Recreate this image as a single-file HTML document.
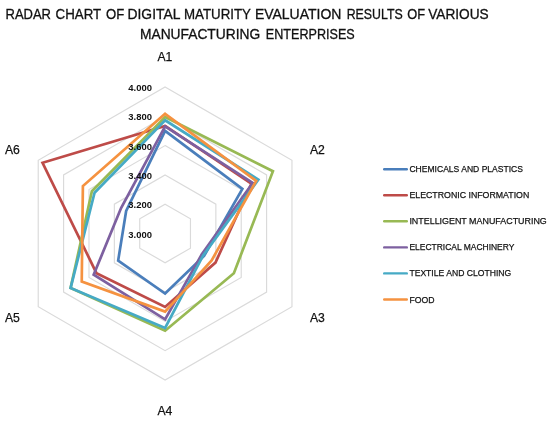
<!DOCTYPE html>
<html lang="en"><head><meta charset="utf-8"><title>Radar chart</title>
<style>html,body{margin:0;padding:0;background:#fff}body{width:550px;height:421px;overflow:hidden}svg{display:block}text{font-family:"Liberation Sans",sans-serif;fill:#111}</style></head><body>
<svg width="550" height="421" viewBox="0 0 550 421">
<rect width="550" height="421" fill="#fff"/>
<text y="19.3" font-size="14.2" stroke="#111" stroke-width="0.3"><tspan x="5.5" textLength="45.5" lengthAdjust="spacingAndGlyphs">RADAR</tspan> <tspan x="55.6" textLength="45.3" lengthAdjust="spacingAndGlyphs">CHART</tspan> <tspan x="106.0" textLength="18.2" lengthAdjust="spacingAndGlyphs">OF</tspan> <tspan x="127.5" textLength="52.4" lengthAdjust="spacingAndGlyphs">DIGITAL</tspan> <tspan x="184.0" textLength="66.7" lengthAdjust="spacingAndGlyphs">MATURITY</tspan> <tspan x="254.9" textLength="86.5" lengthAdjust="spacingAndGlyphs">EVALUATION</tspan> <tspan x="346.7" textLength="56.0" lengthAdjust="spacingAndGlyphs">RESULTS</tspan> <tspan x="407.3" textLength="17.8" lengthAdjust="spacingAndGlyphs">OF</tspan> <tspan x="428.2" textLength="60.5" lengthAdjust="spacingAndGlyphs">VARIOUS</tspan></text>
<text y="38.6" font-size="14.2" stroke="#111" stroke-width="0.3"><tspan x="140.0" textLength="120.2" lengthAdjust="spacingAndGlyphs">MANUFACTURING</tspan> <tspan x="265.8" textLength="88.9" lengthAdjust="spacingAndGlyphs">ENTERPRISES</tspan></text>
<g fill="none" stroke="#DADADA" stroke-width="1.15">
<polygon points="165.10,204.20 190.47,218.85 190.47,248.15 165.10,262.80 139.73,248.15 139.73,218.85"/>
<polygon points="165.10,174.90 215.85,204.20 215.85,262.80 165.10,292.10 114.35,262.80 114.35,204.20"/>
<polygon points="165.10,145.60 241.22,189.55 241.22,277.45 165.10,321.40 88.98,277.45 88.98,189.55"/>
<polygon points="165.10,116.30 266.60,174.90 266.60,292.10 165.10,350.70 63.60,292.10 63.60,174.90"/>
<polygon points="165.10,87.00 291.97,160.25 291.97,306.75 165.10,380.00 38.23,306.75 38.23,160.25"/>
</g>
<g fill="none" stroke-width="2.7" stroke-linejoin="miter" stroke-miterlimit="10">
<polygon stroke="#4A7EBB" points="165.10,130.80 242.37,188.89 204.05,255.99 165.10,293.56 118.16,260.60 126.15,211.01"/>
<polygon stroke="#BE4B48" points="165.10,125.97 251.37,183.69 215.47,262.58 165.10,306.90 96.46,273.13 42.54,162.74"/>
<polygon stroke="#98B954" points="165.10,117.03 272.94,171.24 233.87,273.20 165.10,330.78 70.58,288.07 91.89,191.23"/>
<polygon stroke="#7D60A0" points="165.10,126.41 252.64,182.96 201.64,254.60 165.10,319.35 93.67,274.74 121.08,208.08"/>
<polygon stroke="#46AAC5" points="165.10,120.26 258.35,179.66 203.16,255.47 165.10,327.99 70.58,288.07 94.56,192.77"/>
<polygon stroke="#F59240" points="165.10,113.81 256.19,180.91 211.66,260.38 165.10,311.58 81.74,281.63 82.89,186.03"/>
</g>
<g font-size="8.7" font-weight="bold" text-anchor="end">
<text x="152" y="237.6" textLength="23.7" lengthAdjust="spacingAndGlyphs">3.000</text>
<text x="152" y="208.3" textLength="23.7" lengthAdjust="spacingAndGlyphs">3.200</text>
<text x="152" y="179.0" textLength="23.7" lengthAdjust="spacingAndGlyphs">3.400</text>
<text x="152" y="149.7" textLength="23.7" lengthAdjust="spacingAndGlyphs">3.600</text>
<text x="152" y="120.4" textLength="23.7" lengthAdjust="spacingAndGlyphs">3.800</text>
<text x="152" y="91.1" textLength="23.7" lengthAdjust="spacingAndGlyphs">4.000</text>
</g>
<g font-size="12.4" stroke="#111" stroke-width="0.25">
<text x="157.4" y="60.9" textLength="14.9" lengthAdjust="spacingAndGlyphs">A1</text>
<text x="310" y="153.9" textLength="14.9" lengthAdjust="spacingAndGlyphs">A2</text>
<text x="310" y="321.6" textLength="14.9" lengthAdjust="spacingAndGlyphs">A3</text>
<text x="157.4" y="414.8" textLength="14.9" lengthAdjust="spacingAndGlyphs">A4</text>
<text x="5" y="321.6" textLength="14.9" lengthAdjust="spacingAndGlyphs">A5</text>
<text x="5" y="153.9" textLength="14.9" lengthAdjust="spacingAndGlyphs">A6</text>
</g>
<g stroke-width="2.4" stroke-linecap="round">
<line x1="384.2" x2="406.8" y1="169.2" y2="169.2" stroke="#4A7EBB"/>
<line x1="384.2" x2="406.8" y1="195.2" y2="195.2" stroke="#BE4B48"/>
<line x1="384.2" x2="406.8" y1="221.3" y2="221.3" stroke="#98B954"/>
<line x1="384.2" x2="406.8" y1="247.4" y2="247.4" stroke="#7D60A0"/>
<line x1="384.2" x2="406.8" y1="273.4" y2="273.4" stroke="#46AAC5"/>
<line x1="384.2" x2="406.8" y1="299.5" y2="299.5" stroke="#F59240"/>
</g>
<g font-size="9.9" stroke="#111" stroke-width="0.25">
<text x="409.4" y="172.2" textLength="113.6" lengthAdjust="spacingAndGlyphs">CHEMICALS AND PLASTICS</text>
<text x="409.4" y="198.2" textLength="119.9" lengthAdjust="spacingAndGlyphs">ELECTRONIC INFORMATION</text>
<text x="409.4" y="224.3" textLength="137.4" lengthAdjust="spacingAndGlyphs">INTELLIGENT MANUFACTURING</text>
<text x="409.4" y="250.4" textLength="105.0" lengthAdjust="spacingAndGlyphs">ELECTRICAL MACHINERY</text>
<text x="409.4" y="276.4" textLength="101.8" lengthAdjust="spacingAndGlyphs">TEXTILE AND CLOTHING</text>
<text x="409.4" y="302.5" textLength="25.1" lengthAdjust="spacingAndGlyphs">FOOD</text>
</g>
</svg></body></html>
